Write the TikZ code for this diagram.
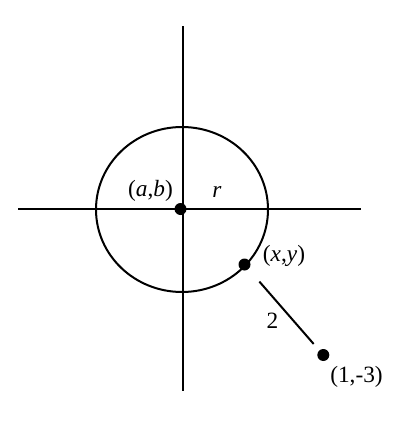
\documentclass[tikz,border=0pt]{standalone}
\usepackage{fontspec}
\setmainfont{Liberation Serif}
\begin{document}
\begin{tikzpicture}[x=0.75pt,y=-0.75pt,
  axis/.style={line width=1.5pt},
  curve/.style={line width=1.5pt},
  dot/.style={circle,fill=black,inner sep=0pt,minimum size=9pt},
  lab/.style={inner sep=0pt,font=\fontsize{17.5}{20}\selectfont}]
\useasboundingbox (0,0) rectangle (400,422);
\coordinate (hl) at (18,209);
\coordinate (hr) at (361,209);
\coordinate (vt) at (182.5,26);
\coordinate (vb) at (182.5,391);
\draw[axis] (hl) -- (hr);
\draw[axis] (vt) -- (vb);
\draw[curve] (182,209.5) ellipse [x radius=86, y radius=82.5];
\node[dot] (c) at (180.5,209) {};
\node[dot] (p) at (244.5,264.5) {};
\node[dot] (q) at (323.3,355) {};
\draw[curve, shorten <=17pt, shorten >=11pt] (p.center) -- (q.center);
\node[lab] (lab1) at (150.5,191) {(\textit{a},\textit{b})};
\node[lab] (lab2) at (217,192) {\textit{r}};
\node[lab] (lab3) at (284,256) {(\textit{x},\textit{y})};
\node[lab] (lab4) at (272.5,320.5) {2};
\node[lab] (lab5) at (356.5,377) {(1,-3)};
\end{tikzpicture}
\end{document}
